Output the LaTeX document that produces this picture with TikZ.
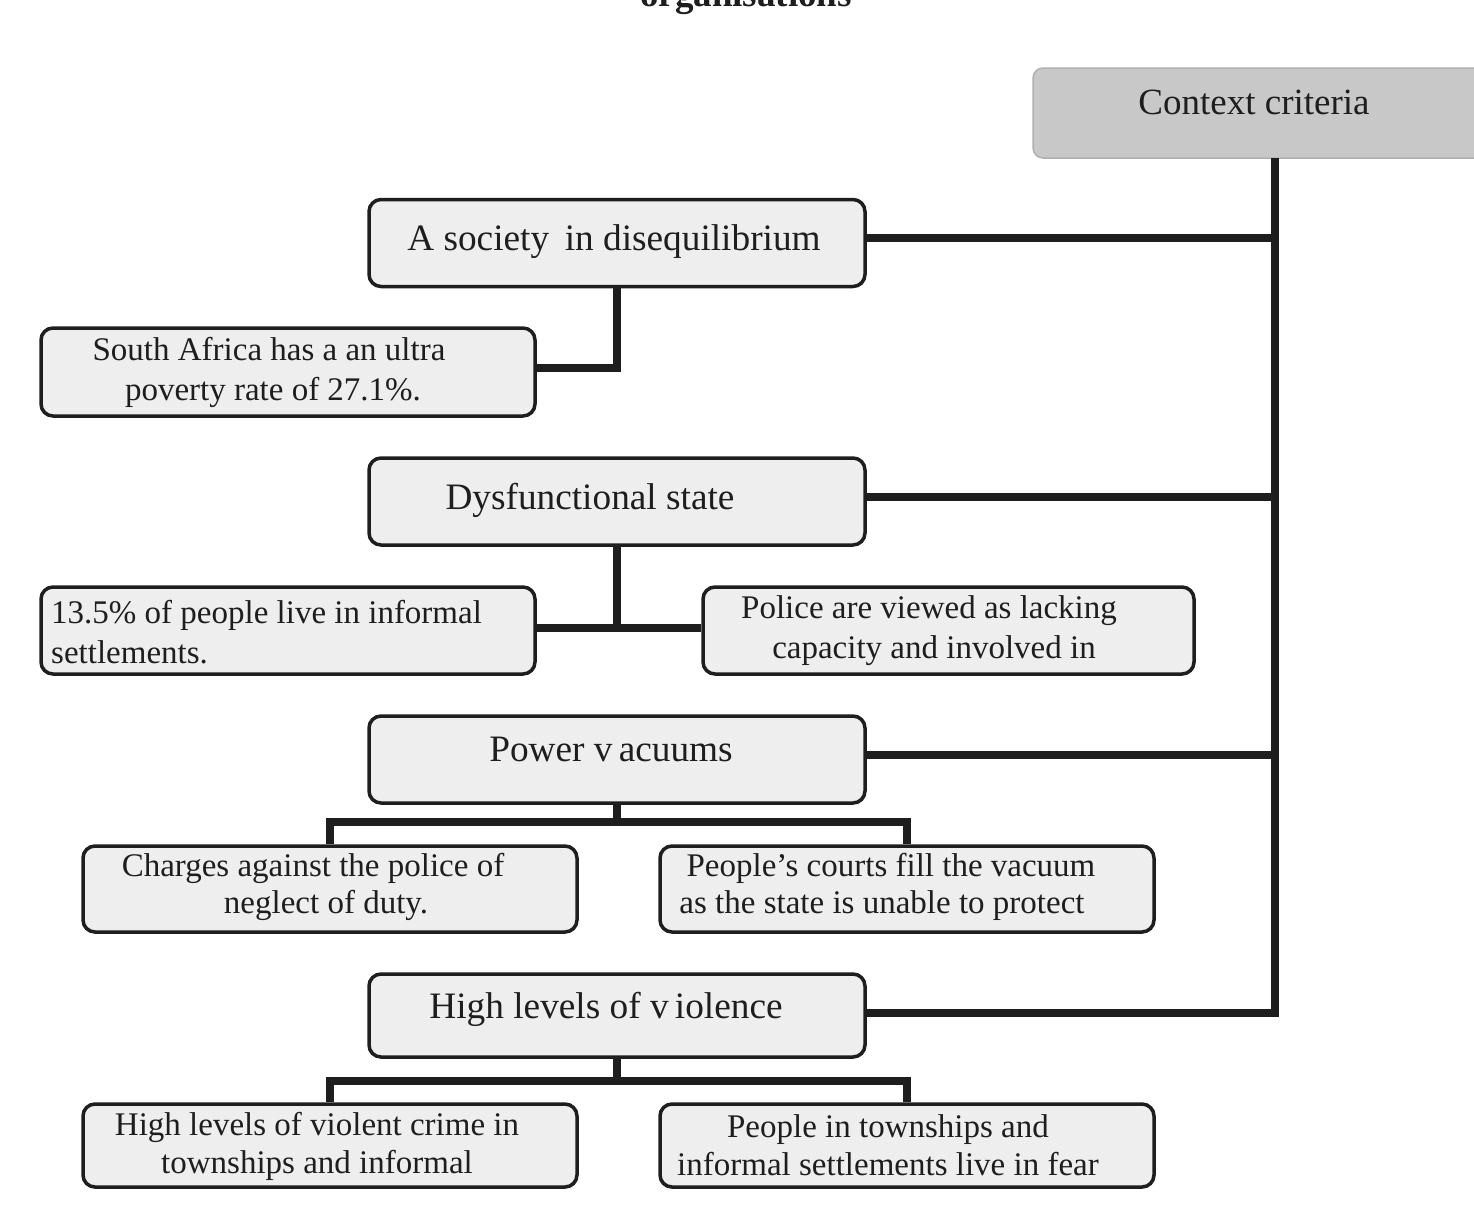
\documentclass[tikz,border=0pt]{standalone}
\usepackage{fontspec}
\setmainfont{Liberation Serif}
\definecolor{boxgray}{HTML}{EEEEEE}
\definecolor{ctxgray}{HTML}{C8C8C8}
\definecolor{ctxedge}{HTML}{B0B0B0}
\definecolor{ink}{HTML}{1E1E1E}
\begin{document}
\begin{tikzpicture}[x=1pt,y=-1pt,
  mainbox/.style={draw=ink, line width=3.5pt, rounded corners=12pt, fill=boxgray,
    minimum width=496pt, minimum height=87pt, inner sep=0pt},
  subbox/.style={draw=ink, line width=3.5pt, rounded corners=12pt, fill=boxgray,
    minimum width=494pt, minimum height=86pt, inner sep=0pt},
  ctxbox/.style={draw=ctxedge, line width=1.5pt, rounded corners=10pt, fill=ctxgray,
    minimum width=470pt, minimum height=90pt, inner sep=0pt},
  maintxt/.style={text=ink, font=\fontsize{37.3}{44}\selectfont, inner sep=0pt},
  subtxt/.style={text=ink, font=\fontsize{33}{40}\selectfont, inner sep=0pt},
  conn/.style={draw=ink, line width=8pt},
]
\useasboundingbox (0,0) rectangle (1474,1227);
\begin{scope}
\clip (0,0) rectangle (1474,1227);

% title (cut off at the top, as in the source)
\node[anchor=base, text=ink, font=\fontsize{37}{44}\selectfont\bfseries, inner sep=0pt] (title) at (746,6) {organisations};

% context criteria
\node[ctxbox] (ctx) at (1268,113) {};
\node[maintxt, font=\fontsize{37}{44}\selectfont] (ctxt) at (1254,102) {Context criteria};

% main boxes
\node[mainbox] (b1) at (617,243) {};
\node[maintxt] (t1) at (614,241.5) {A society\, in disequilibrium};
\node[mainbox] (b2) at (617,501.5) {};
\node[maintxt] (t2) at (590,500) {Dysfunctional state};
\node[mainbox] (b3) at (617,759.5) {};
\node[maintxt] (t3) at (611,749.5) {Power v\,acuums};
\node[mainbox, minimum height=83pt] (b4) at (617,1015.5) {};
\node[maintxt] (t4) at (606,1009) {High levels of v\,iolence};

% sub boxes
\node[subbox, minimum height=88pt] (s1) at (288,372) {};
\node[subtxt, align=center] (u1) at (269,372.5) {South Africa has a an ultra\\ \hspace*{8pt}poverty rate of 27.1\%.};

\node[subbox, minimum height=87pt] (s2a) at (288,630.5) {};
\node[subtxt, align=left, anchor=west] (u2a) at (51,632) {13.5\% of people live in informal\\settlements.};
\node[subbox, minimum width=491pt, minimum height=87pt] (s2b) at (948.5,630.5) {};
\node[subtxt, align=center] (u2b) at (929,631) {Police are viewed as lacking\\ \hspace*{10pt}capacity and involved in};

\node[subbox] (s3a) at (330,889) {};
\node[subtxt, align=center, font=\fontsize{33}{37}\selectfont] (u3a) at (313,887) {Charges against the police of\\ \hspace*{26pt}neglect of duty.};
\node[subbox] (s3b) at (907,889) {};
\node[subtxt, align=center, font=\fontsize{33}{37}\selectfont] (u3b) at (882,887) {\hspace*{18pt}People’s courts fill the vacuum\\as the state is unable to protect};

\node[subbox, minimum height=83pt] (s4a) at (330,1145.5) {};
\node[subtxt, align=center, font=\fontsize{33}{38}\selectfont] (u4a) at (317,1146) {High levels of violent crime in\\townships and informal};
\node[subbox, minimum height=83pt] (s4b) at (907,1145.5) {};
\node[subtxt, align=center, font=\fontsize{33}{38}\selectfont] (u4b) at (888,1145) {People in townships and\\informal settlements live in fear};

% main spine
\coordinate (spineTop) at (1275,158);
\draw[conn] (spineTop) |- ([yshift=2.5pt]b4.east);
\draw[conn] ([yshift=5pt]b1.east) -- ([yshift=5pt]b1.east -| spineTop);
\draw[conn] ([yshift=5pt]b2.east) -- ([yshift=5pt]b2.east -| spineTop);
\draw[conn] ([yshift=4.5pt]b3.east) -- ([yshift=4.5pt]b3.east -| spineTop);

% sub connectors
\draw[conn] (b1.south) |- ([yshift=4pt]s1.east);
\draw[conn] (b2.south) |- ([yshift=3pt]s2a.east);
\draw[conn] (b2.south) |- ([yshift=3pt]s2b.west);
\coordinate (j3) at (617,822);
\draw[conn] (b3.south) -- (j3);
\draw[conn] (s3a.north) |- (j3) -| (s3b.north);
\coordinate (j4) at (617,1081);
\draw[conn] (b4.south) -- (j4);
\draw[conn] (s4a.north) |- (j4) -| (s4b.north);
\end{scope}
\end{tikzpicture}
\end{document}
